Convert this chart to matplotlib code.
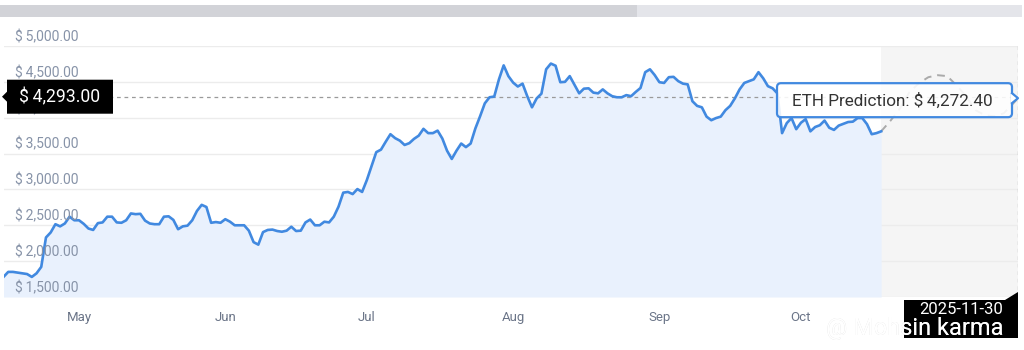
import matplotlib
matplotlib.use("Agg")
import matplotlib.pyplot as plt
import matplotlib.dates as mdates
from matplotlib.patches import Polygon, FancyBboxPatch, Rectangle
import pandas as pd

plt.rcParams["font.family"] = ["Roboto", "DejaVu Sans"]

# daily ETH price, starting 2025-04-15
start_date = "2025-04-15"
prices = [
    1780, 1850, 1850, 1840, 1830, 1820, 1780, 1830, 1920, 2330, 2400, 2515, 2485, 2525, 2620, 2570,
    2570, 2520, 2455, 2435, 2530, 2540, 2620, 2620, 2540, 2535,
    2570, 2665, 2655, 2660, 2565, 2525, 2515, 2515, 2620, 2625,
    2575, 2445, 2485, 2495, 2570, 2700, 2785, 2755, 2535, 2545,
    2535, 2585, 2550, 2500, 2500, 2500, 2425, 2265, 2230, 2405,
    2435, 2440, 2420, 2410, 2425, 2480, 2420, 2425, 2540, 2580,
    2500, 2500, 2550, 2540, 2620, 2760, 2955, 2965, 2935, 3005,
    2965, 3130, 3325, 3520, 3555, 3665, 3770, 3715, 3680, 3620,
    3645, 3705, 3750, 3845, 3785, 3785, 3820, 3710, 3540, 3425,
    3540, 3640, 3590, 3640, 3850, 4020, 4200, 4285, 4295, 4535,
    4730, 4580, 4490, 4435, 4475, 4300, 4145, 4270, 4335, 4675,
    4755, 4725, 4495, 4500, 4580, 4460, 4340, 4405, 4410, 4350,
    4340, 4395, 4340, 4300, 4285, 4285, 4315, 4300, 4360, 4415,
    4635, 4675, 4595, 4495, 4485, 4565, 4570, 4510, 4475, 4465,
    4230, 4165, 4145, 4015, 3965, 3995, 4015, 4105, 4165, 4270,
    4395, 4485, 4510, 4535, 4635, 4550, 4440, 4410, 4340, 3785,
    3925, 3995, 3840, 3930, 3980, 3810, 3870, 3895, 3960, 3860,
    3830, 3890, 3915, 3940, 3945, 3995, 3995, 3910, 3770, 3785,
    3810,
]

forecast_dates = [
    "2025-10-18", "2025-10-20", "2025-10-22", "2025-10-24", "2025-10-26", "2025-10-28",
    "2025-10-30", "2025-11-01", "2025-11-03", "2025-11-05", "2025-11-07", "2025-11-09",
    "2025-11-11", "2025-11-13", "2025-11-15", "2025-11-16",
]
forecast_values = [3810, 3960, 4130, 4356, 4481, 4565, 4593, 4580, 4450, 4300, 4105, 4035,
                   4020, 4063, 4200, 4272.40]

current_price = 4293.00
y_ticks = [1500, 2000, 2500, 3000, 3500, 4000, 4500, 5000]
month_ticks = ["2025-05-01", "2025-06-01", "2025-07-01", "2025-08-01", "2025-09-01", "2025-10-01"]
hover_label = "2025-11-30"
watermark = "@ Mohsin karma"

TS = "\u2009"  # thin space after the dollar sign
dates = pd.date_range(start_date, periods=len(prices), freq="D")
f_dates = pd.to_datetime(forecast_dates)

W, H = 1024, 350
fig = plt.figure(figsize=(W / 100, H / 100), dpi=100)
ax = fig.add_axes([3.5 / W, 1 - 297 / H, (1018 - 3.5) / W, (297 - 46) / H])

line_c = "#4189e0"
ax.set_xlim(dates[0], f_dates[-1])
ax.set_ylim(1500, 5000)

ax.axvspan(f_dates[0], f_dates[-1], color="#f5f5f5", zorder=0, lw=0)
for v in y_ticks:
    ax.axhline(v, color="#ececec", lw=1, zorder=1)
ax.fill_between(dates, prices, 1500, color="#e9f1fd", zorder=2, lw=0)
ax.plot(dates, prices, color=line_c, lw=1.9, zorder=4, solid_joinstyle="round")
ax.plot(f_dates, forecast_values, color="#aaaaaa", lw=1.4, ls=(0, (4, 3)), zorder=3)
ax.axhline(current_price, color="#9a9a9a", lw=0.9, ls=(0, (3, 3)), zorder=3)
ax.axvline(f_dates[-1], color="#9a9a9a", lw=0.9, ls=(0, (3, 3)), zorder=3)

for s in ax.spines.values():
    s.set_visible(False)
ax.set_yticks([])
ax.set_xticks(pd.to_datetime(month_ticks))
ax.xaxis.set_major_formatter(mdates.DateFormatter("%b"))
ax.tick_params(axis="x", length=0, pad=10, labelsize=9.5, labelcolor="#6b7588")
ax.patch.set_alpha(0)

for v in y_ticks:
    ax.annotate(f"${TS}{v:,.2f}", xy=(0, v), xycoords=("axes fraction", "data"),
                xytext=(11.5, 9), textcoords="offset pixels", ha="left", va="center",
                fontsize=10, color="#8793a8", zorder=5)

# overlay in image pixel coordinates (y down)
ov = fig.add_axes([0, 0, 1, 1], zorder=10)
ov.set_xlim(0, W)
ov.set_ylim(H, 0)
ov.axis("off")
ov.patch.set_alpha(0)


def to_px(x, y):
    dx, dy = ax.transData.transform((mdates.date2num(x), y))
    return dx, H - dy


# range bar on top
ov.add_patch(Rectangle((0, 5), 637, 12, color="#d2d3d8", lw=0))
ov.add_patch(Rectangle((637, 5), 385, 12, color="#e4e5ea", lw=0))

# current price label
_, cy = to_px(dates[0], current_price)
ov.add_patch(Polygon([(2, cy), (7, cy - 5), (7, cy - 17), (113, cy - 17), (113, cy + 17),
                      (7, cy + 17), (7, cy + 5)], closed=True, color="black", lw=0))
ov.text(60, cy + 0.5, f"${TS}{current_price:,.2f}", color="white", fontsize=12.7,
        ha="center", va="center")

# prediction tooltip
tx, ty = to_px(f_dates[-1], forecast_values[-1])
bx0, bx1 = tx - 241, tx - 6
ov.add_patch(FancyBboxPatch((bx0, ty - 15), bx1 - bx0, 34,
                            boxstyle="round,pad=0,rounding_size=4",
                            facecolor="white", alpha=0.88, edgecolor="none"))
ov.add_patch(FancyBboxPatch((bx0, ty - 15), bx1 - bx0, 34,
                            boxstyle="round,pad=0,rounding_size=4",
                            facecolor="none", edgecolor=line_c, lw=1.6))
ov.add_patch(Polygon([(bx1 - 1, ty - 5), (tx, ty), (bx1 - 1, ty + 5)], closed=True,
                     facecolor="white", edgecolor="none"))
ov.plot([bx1, tx, bx1], [ty - 5, ty, ty + 5], color=line_c, lw=1.6)
ov.text(bx0 + 15, ty + 2.5, f"ETH Prediction: ${TS}{forecast_values[-1]:,.2f}",
        color="#333333", fontsize=12.3, ha="left", va="center")

# hovered date label at the bottom right
box = Polygon([(tx - 114, 300), (tx - 13, 300), (tx, 292), (tx, 338), (tx - 114, 338)],
              closed=True, color="black", lw=0)
ov.add_patch(box)
ov.text(tx - 57, 310, hover_label, color="white", fontsize=12, ha="center", va="center")

# watermark
ov.text(826, 328, watermark, color="#d6d6d6", alpha=0.9, fontsize=17, ha="left", va="center")
wm = ov.text(826, 328, watermark, color="white", fontsize=17, ha="left", va="center")
wm.set_clip_path(box)

fig.savefig("out.png", dpi=100)
